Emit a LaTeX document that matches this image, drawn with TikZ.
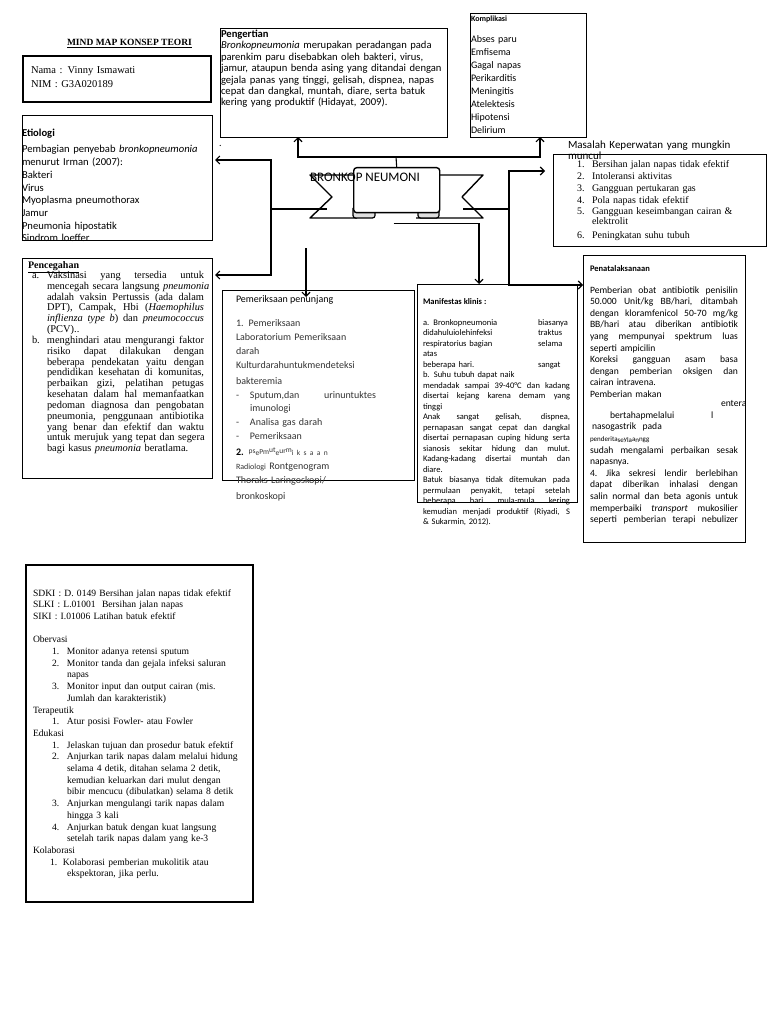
\documentclass[tikz,border=0pt]{standalone}
\usepackage{fontspec}
\setmainfont{Liberation Serif}
\newfontfamily\calib{Carlito}
\usetikzlibrary{arrows.meta, calc}

\newcommand{\fillline}[2]{\makebox[#1][s]{\spaceskip=.3333em plus 1fil\xspaceskip=\spaceskip #2}}
\newcommand{\numitem}[2]{\hspace*{19pt}\makebox[15pt][l]{#1}#2}
\newcommand{\contitem}[1]{\hspace*{34pt}#1}

\tikzset{
  box/.style={draw, rectangle, anchor=north west, inner sep=0pt, outer sep=0pt, line width=0.9pt},
  heavybox/.style={box, line width=1.6pt},
  body/.style={anchor=base west, inner sep=0pt, outer sep=0pt, align=left},
  link/.style={line width=1.1pt},
}

\begin{document}
\begin{tikzpicture}[x=1pt, y=-1pt, >={Straight Barb[length=4pt, width=8pt]}]
\useasboundingbox (0,0) rectangle (768,1024);

  % Title and name
  \node[body, font=\bfseries\fontsize{9.5}{11}\selectfont] (title) at (67,46) {\underline{MIND MAP KONSEP TEORI}};
  \node[heavybox, minimum width=188pt, minimum height=46pt] (namebox) at (23,56) {};
  \node[body, text width=170pt, font=\fontsize{10.5}{14}\selectfont] (nametext) at (31,74) {Nama : Vinny Ismawati\\NIM : G3A020189};

  % Pengertian
  \node[box, minimum width=227pt, minimum height=109pt] (pengertian) at (220,28) {};
  \node[body, text width=232pt, font=\calib\fontsize{10.6}{11.4}\selectfont] (pengtext) at (221,37.5) {\textbf{Pengertian}\\
    \textit{Bronkopneumonia} merupakan peradangan pada\\
    parenkim paru disebabkan oleh bakteri, virus,\\
    jamur, ataupun benda asing yang ditandai dengan\\
    gejala panas yang tinggi, gelisah, dispnea, napas\\
    cepat dan dangkal, muntah, diare, serta batuk\\
    kering yang produktif (Hidayat, 2009).};
  \node[body, font=\calib\fontsize{10}{12}\selectfont] (dot) at (219,147) {.};

  % Komplikasi
  \node[box, minimum width=116pt, minimum height=124pt] (komplikasi) at (470,13) {};
  \node[body, font=\calib\bfseries\fontsize{8}{10}\selectfont] (komptitle) at (471,22) {Komplikasi};
  \node[body, text width=110pt, font=\calib\fontsize{10}{12.86}\selectfont] (komplist) at (471,43) {Abses paru\\Emfisema\\Gagal napas\\Perikarditis\\Meningitis\\Atelektesis\\Hipotensi\\Delirium};

  % Etiologi
  \node[box, minimum width=190pt, minimum height=125pt] (etiologi) at (22,115) {};
  \node[body, text width=195pt, font=\calib\fontsize{10.6}{12.7}\selectfont] (etiotext) at (22,137) {\textbf{Etiologi}\\[3.3pt]
    Pembagian penyebab \textit{bronkopneumonia}\\
    menurut Irman (2007):\\
    Bakteri\\Virus\\Myoplasma pneumothorax\\Jamur\\Pneumonia hipostatik\\Sindrom loeffer};

  % Masalah keperawatan
  \node[body, text width=200pt, font=\calib\fontsize{11}{9}\selectfont] (mastitle) at (568,148.5) {Masalah Keperwatan yang mungkin\\muncul};
  \node[box, minimum width=213pt, minimum height=92pt] (masalah) at (553,154) {};
  \node[body, text width=180pt, font=\fontsize{10}{11.7}\selectfont] (maslist) at (577,168) {%
    \makebox[15pt][l]{1.}Bersihan jalan napas tidak efektif\\
    \makebox[15pt][l]{2.}Intoleransi aktivitas\\
    \makebox[15pt][l]{3.}Gangguan pertukaran gas\\
    \makebox[15pt][l]{4.}Pola napas tidak efektif\\
    \makebox[15pt][l]{5.}Gangguan keseimbangan cairan \&\\[-1.5pt]
    \hspace*{15pt}elektrolit\\[1.5pt]
    \makebox[15pt][l]{6.}Peningkatan suhu tubuh};

  % Banner
  \draw[line width=1.4pt, line join=round] (353,175) -- (310,175) -- (332,197) -- (310,218) -- (357,218);
  \draw[line width=1.4pt, line join=round] (439,175) -- (483,175) -- (462,197) -- (483,218) -- (416,218);
  \draw[line width=1.2pt, fill=gray!25, rounded corners=2.5pt] (353,208) -- (353,218) -- (375,218) -- (375,208);
  \draw[line width=1.2pt, fill=gray!25, rounded corners=2.5pt] (418,208) -- (418,218) -- (439,218) -- (439,208);
  \node[draw, fill=white, line width=1.4pt, rounded corners=3pt, anchor=north west, inner sep=0pt,
        minimum width=86pt, minimum height=45pt] (ribbon) at (353,167) {};
  \node[body, font=\calib\fontsize{13}{15}\selectfont] (bronkop) at (310,182) {BRONKOP NEUMONI};
  \coordinate (tailL) at (327,209);
  \coordinate (tailR) at (463,209);

  % Pencegahan
  \node[box, minimum width=190pt, minimum height=220pt] (pencegahan) at (22,258) {};
  \node[body, font=\bfseries\fontsize{10}{12}\selectfont] (penctitle) at (28,268.5) {\underline{Pencegahan}};
  \node[body, text width=180pt, font=\fontsize{10.4}{10.83}\selectfont] (penctext) at (32,278.5) {%
    \makebox[15pt][l]{a.}\fillline{157pt}{Vaksinasi yang tersedia untuk}\\
    \hspace*{15pt}\fillline{157pt}{mencegah secara langsung \textit{pneumonia}}\\
    \hspace*{15pt}\fillline{157pt}{adalah vaksin Pertussis (ada dalam}\\
    \hspace*{15pt}\fillline{157pt}{DPT), Campak, Hbi (\textit{Haemophilus}}\\
    \hspace*{15pt}\fillline{157pt}{\textit{inflienza type b}) dan \textit{pneumococcus}}\\
    \hspace*{15pt}(PCV)..\\
    \makebox[15pt][l]{b.}\fillline{157pt}{menghindari atau mengurangi faktor}\\
    \hspace*{15pt}\fillline{157pt}{risiko dapat dilakukan dengan}\\
    \hspace*{15pt}\fillline{157pt}{beberapa pendekatan yaitu dengan}\\
    \hspace*{15pt}\fillline{157pt}{pendidikan kesehatan di komunitas,}\\
    \hspace*{15pt}\fillline{157pt}{perbaikan gizi, pelatihan petugas}\\
    \hspace*{15pt}\fillline{157pt}{kesehatan dalam hal memanfaatkan}\\
    \hspace*{15pt}\fillline{157pt}{pedoman diagnosa dan pengobatan}\\
    \hspace*{15pt}\fillline{157pt}{pneumonia, penggunaan antibiotika}\\
    \hspace*{15pt}\fillline{157pt}{yang benar dan efektif dan waktu}\\
    \hspace*{15pt}\fillline{157pt}{untuk merujuk yang tepat dan segera}\\
    \hspace*{15pt}bagi kasus \textit{pneumonia} beratlama.};

  % Pemeriksaan penunjang
  \node[box, minimum width=192pt, minimum height=190pt] (pemeriksaan) at (222,290) {};
  \node[body, font=\calib\fontsize{10}{12}\selectfont] (pemtitle) at (236,302) {Pemeriksaan penunjang};
  \node[body, text width=180pt, text=black!80, font=\calib\fontsize{10}{14}\selectfont] (pemtext) at (236,326) {%
    1. Pemeriksaan\\
    Laboratorium Pemeriksaan\\
    darah\\
    Kulturdarahuntukmendeteksi\\[2pt]
    bakteremia\\
    \makebox[14pt][l]{-}\fillline{126pt}{Sputum,dan urinuntuktes}\\[-1pt]
    \hspace*{14pt}imunologi\\
    \makebox[14pt][l]{-}Analisa gas darah\\
    \makebox[14pt][l]{-}Pemeriksaan\\[2pt]
    {\color{black}\textbf{2.}} {\fontsize{7.5}{8}\selectfont\raisebox{2pt}{ps}e\raisebox{1pt}{Pm}\raisebox{3pt}{ut}e\raisebox{2pt}{ur}\raisebox{3pt}{m}i k s a a n}\\
    {\fontsize{8}{8}\selectfont Radiologi} Rontgenogram\\
    Thoraks Laringoskopi/\\[2pt]
    bronkoskopi};

  % Manifestasi klinis
  \node[box, minimum width=160pt, minimum height=218pt] (manifestasi) at (417,284) {};
  \node[body, font=\calib\bfseries\fontsize{8.5}{10}\selectfont] (mantitle) at (423,304) {Manifestas klinis :};
  \node[body, text width=150pt, font=\calib\fontsize{8.5}{10.5}\selectfont] (mantext) at (423,325) {%
    \makebox[115pt][l]{a. Bronkopneumonia}biasanya\\
    \makebox[115pt][l]{didahuluiolehinfeksi}traktus\\
    \makebox[115pt][l]{respiratorius bagian}selama\\
    atas\\
    \makebox[115pt][l]{beberapa hari.}sangat\\
    b. Suhu tubuh dapat naik\\
    \fillline{147pt}{mendadak sampai 39-40°C dan kadang}\\
    \fillline{147pt}{disertai kejang karena demam yang}\\
    tinggi\\
    \fillline{147pt}{Anak sangat gelisah, dispnea,}\\
    \fillline{147pt}{pernapasan sangat cepat dan dangkal}\\
    \fillline{147pt}{disertai pernapasan cuping hidung serta}\\
    \fillline{147pt}{sianosis sekitar hidung dan mulut.}\\
    \fillline{147pt}{Kadang-kadang disertai muntah dan}\\
    diare.\\
    \fillline{147pt}{Batuk biasanya tidak ditemukan pada}\\
    \fillline{147pt}{permulaan penyakit, tetapi setelah}\\
    \fillline{147pt}{beberapa hari mula-mula kering}\\
    \fillline{147pt}{kemudian menjadi produktif (Riyadi, S}\\
    \& Sukarmin, 2012).};

  % Penatalaksanaan
  \node[box, minimum width=162pt, minimum height=287pt] (penatalaksanaan) at (583,255) {};
  \node[body, font=\calib\bfseries\fontsize{8.5}{10}\selectfont] (penattitle) at (590,271) {Penatalaksanaan};
  \node[body, text width=150pt, font=\calib\fontsize{9.6}{11.6}\selectfont] (penattext) at (590,293) {%
    \fillline{148pt}{Pemberian obat antibiotik penisilin}\\
    \fillline{148pt}{50.000 Unit/kg BB/hari, ditambah}\\
    \fillline{148pt}{dengan kloramfenicol 50-70 mg/kg}\\
    \fillline{148pt}{BB/hari atau diberikan antibiotik}\\
    \fillline{148pt}{yang mempunyai spektrum luas}\\
    seperti ampicilin\\
    \fillline{148pt}{Koreksi gangguan asam basa}\\
    \fillline{148pt}{dengan pemberian oksigen dan}\\
    cairan intravena.\\
    Pemberian makan\\[-2.3pt]
    \hspace*{131pt}\mbox{entera}\\
    \hspace*{20pt}\makebox[101pt][l]{bertahapmelalui}l\\
    \hspace*{2pt}nasogastrik\ \ pada\\
    {\fontsize{7}{7}\selectfont penderita\raisebox{-1pt}{se}y\raisebox{-1pt}{la}a\raisebox{-1pt}{n}ngg}\\
    \fillline{148pt}{sudah mengalami perbaikan sesak}\\
    napasnya.\\
    \fillline{148pt}{4. Jika sekresi lendir berlebihan}\\
    \fillline{148pt}{dapat diberikan inhalasi dengan}\\
    \fillline{148pt}{salin normal dan beta agonis untuk}\\
    \fillline{148pt}{memperbaiki \textit{transport} mukosilier}\\
    \fillline{148pt}{seperti pemberian terapi nebulizer}};

  % SDKI / SLKI / SIKI
  \node[heavybox, minimum width=227pt, minimum height=337pt] (sdki) at (26,565) {};
  \node[body, text width=225pt, font=\fontsize{9.6}{11.7}\selectfont] (sdkitext) at (33,596) {%
    SDKI : D. 0149 Bersihan jalan napas tidak efektif\\
    SLKI : L.01001\ \ Bersihan jalan napas\\
    SIKI : I.01006 Latihan batuk efektif\\[11.7pt]
    Obervasi\\
    \numitem{1.}{Monitor adanya retensi sputum}\\
    \numitem{2.}{Monitor tanda dan gejala infeksi saluran}\\
    \contitem{napas}\\
    \numitem{3.}{Monitor input dan output cairan (mis.}\\
    \contitem{Jumlah dan karakteristik)}\\
    Terapeutik\\
    \numitem{1.}{Atur posisi Fowler- atau Fowler}\\
    Edukasi\\
    \numitem{1.}{Jelaskan tujuan dan prosedur batuk efektif}\\
    \numitem{2.}{Anjurkan tarik napas dalam melalui hidung}\\
    \contitem{selama 4 detik, ditahan selama 2 detik,}\\
    \contitem{kemudian keluarkan dari mulut dengan}\\
    \contitem{bibir mencucu (dibulatkan) selama 8 detik}\\
    \numitem{3.}{Anjurkan mengulangi tarik napas dalam}\\
    \contitem{hingga 3 kali}\\
    \numitem{4.}{Anjurkan batuk dengan kuat langsung}\\
    \contitem{setelah tarik napas dalam yang ke-3}\\
    Kolaborasi\\
    \hspace*{17pt}\makebox[13pt][l]{1.}Kolaborasi pemberian mukolitik atau\\
    \contitem{ekspektoran, jika perlu.}};

  % Edges
  \coordinate (hubT) at (396,157);
  \coordinate (hubL) at (271,209);
  \coordinate (hubR) at (509,209);
  \coordinate (hubB) at (393,247);
  \coordinate (startP) at (306,248);

  \draw[link] (ribbon.north) -- (hubT);
  \draw[link, ->] (hubT) -| ($(pengertian.south west)+(78,0)$);
  \draw[link, ->] (hubT) -| ($(komplikasi.south west)+(70,0)$);

  \draw[link] (tailL) -- (hubL);
  \draw[link, ->] (hubL) |- ($(etiologi.north east)+(3,45)$);
  \draw[link, ->] (hubL) |- ($(pencegahan.north east)+(3,17)$);

  \draw[link] (tailR) -- (hubR);
  \draw[link, ->] (hubR) |- ($(masalah.north west)+(-8,17)$);
  \draw[link, ->] (hubR) |- ($(penatalaksanaan.north west)+(0,30)$);

  \draw[link, ->] ($(ribbon.south)+(-3,10)$) -- ($(ribbon.south)+(-3,10)$ |- hubB) -| ($(manifestasi.north west)+(62,0)$);
  \draw[link, ->] (startP) -- ($(pemeriksaan.north west)+(84,7)$);

\end{tikzpicture}
\end{document}
